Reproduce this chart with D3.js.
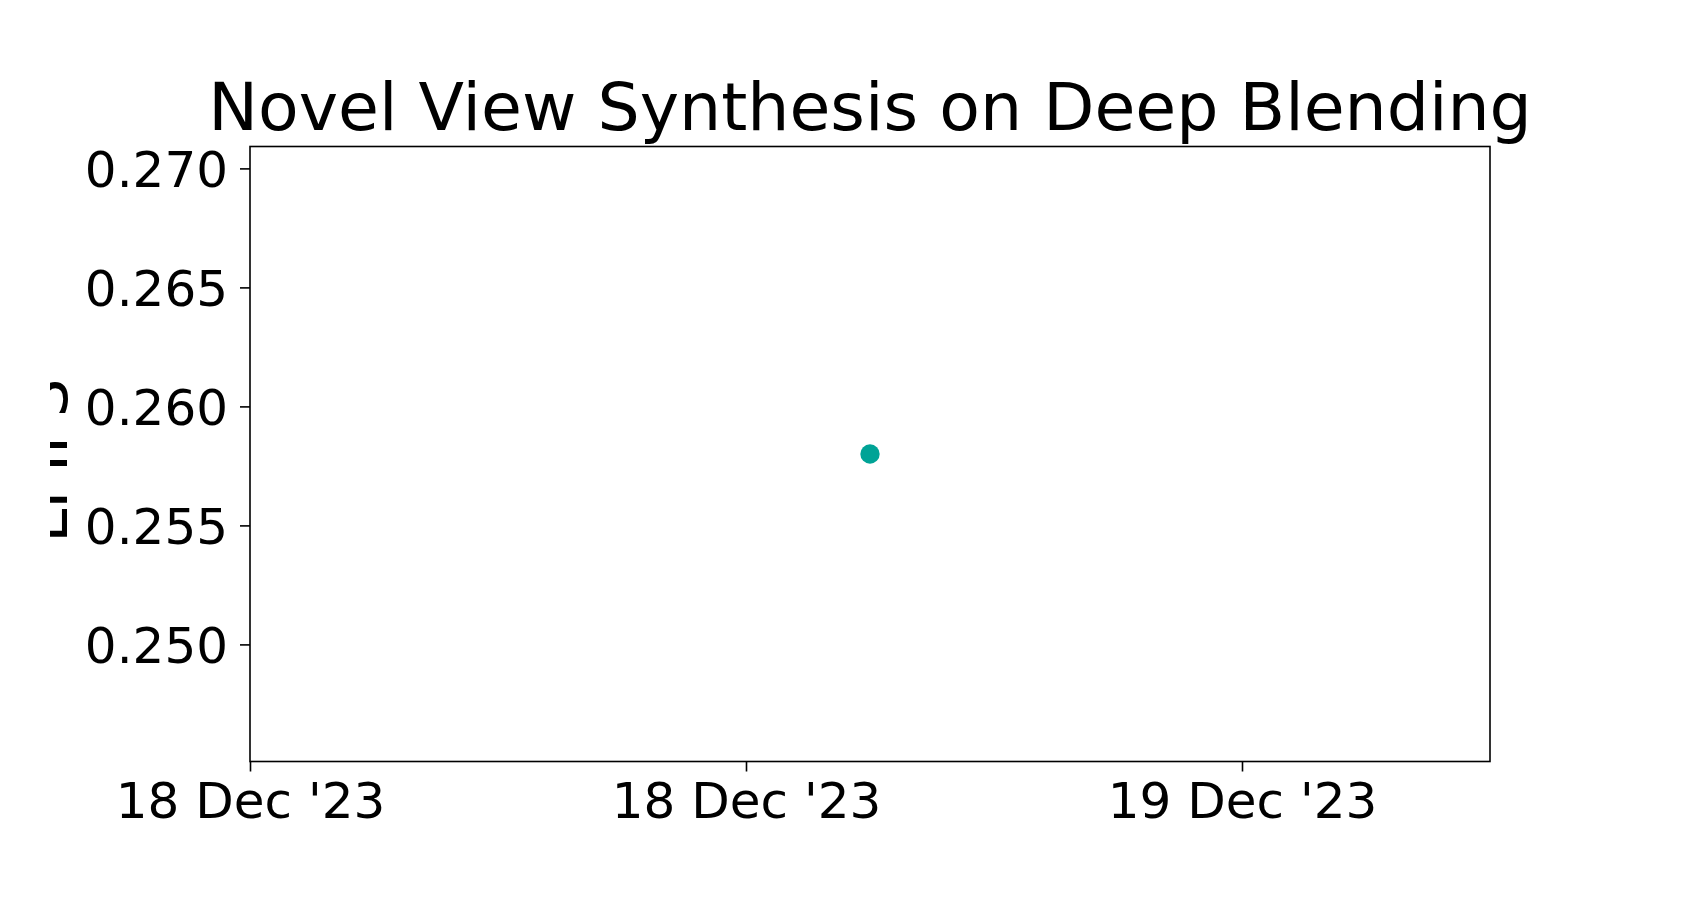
<!DOCTYPE html>
<html>
<head>
<meta charset="utf-8">
<script src="https://cdn.jsdelivr.net/npm/d3@7"></script>
<style>
  html, body { margin: 0; padding: 0; background: #ffffff; }
  svg { display: block; }
  text { font-family: "DejaVu Sans", sans-serif; fill: #000; }
</style>
</head>
<body>
<svg id="chart" width="1700" height="900"></svg>
<script>
// ---- data ----
const dates = ["2023-12-18T15:00:00Z"];
const values = [0.258];
const xDomain = ["2023-12-18T00:00:00Z", "2023-12-19T06:00:00Z"];
const yDomain = [0.24508, 0.27092];
const xTicks = ["2023-12-18T00:00:00Z", "2023-12-18T12:00:00Z", "2023-12-19T00:00:00Z"];
const yTicks = [0.250, 0.255, 0.260, 0.265, 0.270];
const titleText = "Novel View Synthesis on Deep Blending";
const yLabelText = "LPIPS";

// ---- layout ----
const W = 1700, H = 900;
const plot = { left: 250, right: 1490, top: 146.5, bottom: 761.5 };
const svg = d3.select("#chart");
svg.append("rect").attr("width", W).attr("height", H).attr("fill", "#fff");

const x = d3.scaleUtc()
  .domain(xDomain.map(d => new Date(d)))
  .range([plot.left, plot.right]);
const y = d3.scaleLinear()
  .domain(yDomain)
  .range([plot.bottom, plot.top]);

// point
svg.append("g").selectAll("circle")
  .data(dates.map((d, i) => ({ t: new Date(d), v: values[i] })))
  .join("circle")
  .attr("cx", d => x(d.t))
  .attr("cy", d => y(d.v))
  .attr("r", 9.7)
  .attr("fill", "#00a396");

// axes
const fmtX = d3.utcFormat("%d %b '%y");
const xAxis = d3.axisBottom(x)
  .tickValues(xTicks.map(d => new Date(d)))
  .tickFormat(fmtX)
  .tickSizeInner(10).tickSizeOuter(0).tickPadding(10);
const yAxis = d3.axisLeft(y)
  .tickValues(yTicks)
  .tickFormat(d3.format(".3f"))
  .tickSizeInner(10).tickSizeOuter(0).tickPadding(12);

const gx = svg.append("g").attr("transform", `translate(0,${plot.bottom})`).call(xAxis);
const gy = svg.append("g").attr("transform", `translate(${plot.left},0)`).call(yAxis);
[gx, gy].forEach(g => {
  g.select(".domain").remove();
  g.selectAll(".tick line").attr("stroke", "#000").attr("stroke-width", 1.6);
  g.selectAll(".tick text")
    .attr("font-family", "DejaVu Sans")
    .attr("font-size", 50)
    .attr("fill", "#000");
});
gx.selectAll(".tick text").attr("dy", "0.73em");
gy.selectAll(".tick text").attr("dy", "0.36em");

// frame
svg.append("rect")
  .attr("x", plot.left).attr("y", plot.top)
  .attr("width", plot.right - plot.left)
  .attr("height", plot.bottom - plot.top)
  .attr("fill", "none").attr("stroke", "#000").attr("stroke-width", 1.6);

// title
svg.append("text")
  .attr("x", (plot.left + plot.right) / 2)
  .attr("y", 129.5)
  .attr("text-anchor", "middle")
  .attr("font-size", 66.5)
  .text(titleText);

// y label: only its baseline-side strip is visible in the reference (clipped at x = 50)
svg.append("clipPath").attr("id", "ylabclip")
  .append("rect").attr("x", 50).attr("y", 0).attr("width", 200).attr("height", H);
svg.append("g").attr("clip-path", "url(#ylabclip)")
  .append("text")
  .attr("transform", "translate(67,542.7) rotate(-90)")
  .attr("text-anchor", "start")
  .attr("font-size", 61)
  .text(yLabelText);
</script>
</body>
</html>
